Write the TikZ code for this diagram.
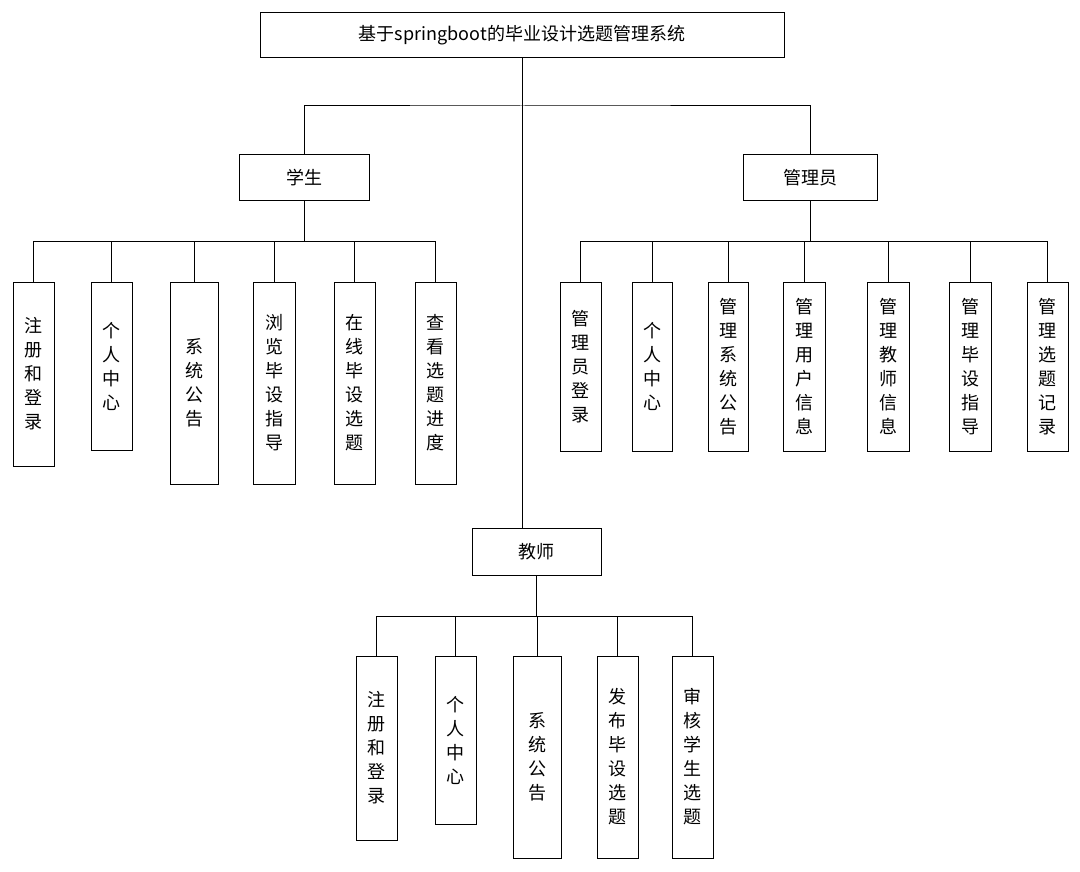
\documentclass[tikz,border=0pt]{standalone}
\usepackage{fontspec}
\newfontfamily\cjk{Noto Sans CJK SC}
\begin{document}
\begin{tikzpicture}[x=1pt,y=-1pt,
  box/.style={draw,line width=1pt,inner sep=0pt,font=\cjk\fontsize{18}{24}\selectfont,align=center},
  ln/.style={line width=1pt}]
\useasboundingbox (0,0) rectangle (1080,872);
\newcommand{\bx}[6]{\node[box,minimum width=#4-#2,minimum height=#5-#3] (#1) at ({(#2+#4)/2},{(#3+#5)/2}) {#6};}
\bx{root}{260}{13}{784}{58}{基于springboot的毕业设计选题管理系统}
\bx{stu}{239}{155}{369}{201}{学生}
\bx{adm}{743}{155}{877}{201}{管理员}
\bx{tea}{472}{528}{601}{575}{教师}
% student leaves
\bx{s1}{13}{282}{54}{466}{注\\册\\和\\登\\录}
\bx{s2}{91}{282}{132}{450}{个\\人\\中\\心}
\bx{s3}{170}{282}{218}{484}{系\\统\\公\\告}
\bx{s4}{253}{282}{295}{484}{浏\\览\\毕\\设\\指\\导}
\bx{s5}{334}{282}{375}{484}{在\\线\\毕\\设\\选\\题}
\bx{s6}{415}{282}{456}{484}{查\\看\\选\\题\\进\\度}
% admin leaves
\bx{a1}{560}{282}{601}{451}{管\\理\\员\\登\\录}
\bx{a2}{632}{282}{672}{451}{个\\人\\中\\心}
\bx{a3}{708}{282}{748}{451}{管\\理\\系\\统\\公\\告}
\bx{a4}{783}{282}{825}{451}{管\\理\\用\\户\\信\\息}
\bx{a5}{867}{282}{909}{451}{管\\理\\教\\师\\信\\息}
\bx{a6}{949}{282}{991}{451}{管\\理\\毕\\设\\指\\导}
\bx{a7}{1027}{282}{1068}{451}{管\\理\\选\\题\\记\\录}
% teacher leaves
\bx{t1}{356}{656}{397}{840}{注\\册\\和\\登\\录}
\bx{t2}{435}{656}{476}{824}{个\\人\\中\\心}
\bx{t3}{513}{656}{561}{858}{系\\统\\公\\告}
\bx{t4}{597}{656}{638}{858}{发\\布\\毕\\设\\选\\题}
\bx{t5}{672}{656}{713}{858}{审\\核\\学\\生\\选\\题}
% connectors
\draw[ln] (root.south) -- (root.south|-tea.north);
\draw[ln] (stu.north) |- (522,106) -| (adm.north);
\foreach \n in {s1,s2,s3,s4,s5,s6} \draw[ln] (stu.south) |- (\n.north|-0,241) -- (\n.north);
\foreach \n in {a1,a2,a3,a4,a5,a6,a7} \draw[ln] (adm.south) |- (\n.north|-0,241) -- (\n.north);
\foreach \n in {t1,t2,t3,t4,t5} \draw[ln] (tea.south) |- (\n.north|-0,616) -- (\n.north);
\end{tikzpicture}
\end{document}
